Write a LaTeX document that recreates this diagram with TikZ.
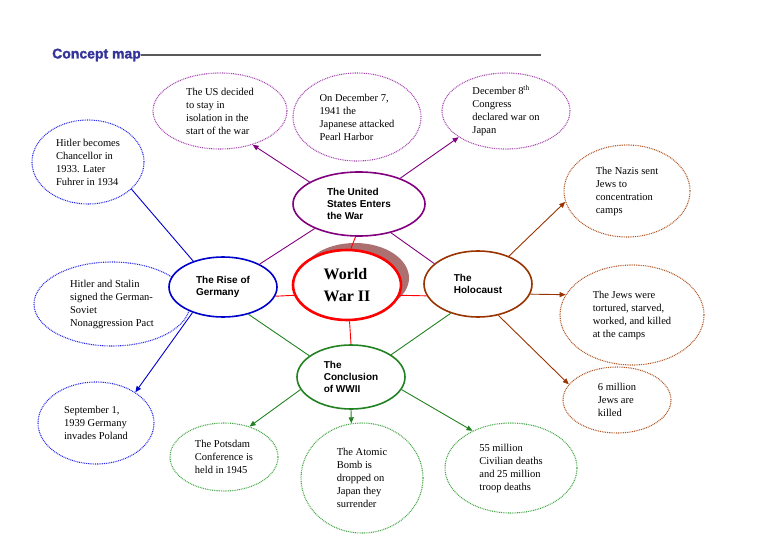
\documentclass[tikz,border=0pt]{standalone}
\usepackage{fontspec}
\setmainfont{Liberation Serif}
\setsansfont{Liberation Sans}
\usepackage{tikz}
\usetikzlibrary{shapes.geometric,arrows.meta,positioning}

\definecolor{wwpurple}{RGB}{128,0,128}
\definecolor{wwpurpledot}{RGB}{165,70,175}
\definecolor{wwblue}{RGB}{0,0,204}
\definecolor{wwbluedot}{RGB}{40,40,235}
\definecolor{wwbrown}{RGB}{153,51,0}
\definecolor{wwbrowndot}{RGB}{175,85,35}
\definecolor{wwgreen}{RGB}{34,130,34}
\definecolor{wwgreendot}{RGB}{70,165,70}
\definecolor{wwred}{RGB}{255,0,0}
\definecolor{wwshadow}{RGB}{172,112,112}
\definecolor{wwtitle}{RGB}{51,51,153}

\begin{document}
\begin{tikzpicture}[
  x=1pt, y=-1pt,
  topic/.style={ellipse, draw=#1, fill=white, line width=1.6pt, inner sep=0pt,
    align=left, font=\sffamily\bfseries\fontsize{10}{12}\selectfont},
  fact/.style={ellipse, draw=#1, line width=1.1pt, dash pattern=on 0.9pt off 0.9pt,
    inner sep=0pt, align=left, font=\fontsize{10.5}{13}\selectfont},
  arr/.style={-{Triangle[length=6pt,width=5pt]}, line width=0.9pt},
  link/.style={line width=0.9pt}
]
\useasboundingbox (0,0) rectangle (768,543);

% heading
\node[anchor=west, inner sep=0pt, text=wwtitle,
  font=\sffamily\bfseries\fontsize{14}{16}\selectfont\addfontfeature{FakeBold=1.5}]
  (title) at (52,55) {Concept map};
\coordinate (ruleend) at (541,55);
\draw[line width=1.4pt, black!65] (title.east) -- (ruleend);

% detail ellipses
\node[fact=wwpurpledot, minimum width=134pt, minimum height=76pt] (isolation) at (220,111)
  {The US decided\\to stay in\\isolation in the\\start of the war};
\node[fact=wwpurpledot, minimum width=128pt, minimum height=88pt] (pearl) at (357,117)
  {On December 7,\\1941 the\\Japanese attacked\\Pearl Harbor};
\node[fact=wwpurpledot, minimum width=128pt, minimum height=76pt] (declare) at (506,111)
  {December 8\textsuperscript{th}\\Congress\\declared war on\\Japan};
\node[fact=wwbluedot, minimum width=112pt, minimum height=84pt] (chancellor) at (88,162)
  {Hitler becomes\\Chancellor in\\1933. Later\\Fuhrer in 1934};
\node[fact=wwbluedot, minimum width=156pt, minimum height=84pt] (pact) at (112,304)
  {Hitler and Stalin\\signed the German-\\Soviet\\Nonaggression Pact};
\node[fact=wwbluedot, minimum width=116pt, minimum height=82pt] (poland) at (96,423)
  {September 1,\\1939 Germany\\invades Poland};
\node[fact=wwbrowndot, minimum width=126pt, minimum height=92pt] (camps) at (627,191)
  {The Nazis sent\\Jews to\\concentration\\camps};
\node[fact=wwbrowndot, minimum width=144pt, minimum height=100pt] (tortured) at (632,315)
  {The Jews were\\tortured, starved,\\worked, and killed\\at the camps};
\node[fact=wwbrowndot, minimum width=108pt, minimum height=66pt] (sixmil) at (617,400)
  {6 million\\Jews are\\killed};
\node[fact=wwgreendot, minimum width=108pt, minimum height=68pt] (potsdam) at (224,457)
  {The Potsdam\\Conference is\\held in 1945};
\node[fact=wwgreendot, minimum width=122pt, minimum height=110pt] (bomb) at (362,478)
  {The Atomic\\Bomb is\\dropped on\\Japan they\\surrender};
\node[fact=wwgreendot, minimum width=132pt, minimum height=90pt] (deaths) at (511,468)
  {55 million\\Civilian deaths\\and 25 million\\troop deaths};

% main topics
\node[ellipse, fill=wwshadow, minimum width=108pt, minimum height=70pt] (shade) at (355,278) {};
\node[topic=wwred, line width=2.6pt, minimum width=108pt, minimum height=70pt,
  font=\bfseries\fontsize{16}{22}\selectfont] (war) at (347,285) {World\\War II};
\node[topic=wwpurple, minimum width=132pt, minimum height=64pt] (usa) at (359,204)
  {The United\\States Enters\\the War};
\node[topic=wwblue, minimum width=108pt, minimum height=60pt] (germany) at (223,287)
  {The Rise of\\Germany};
\node[topic=wwbrown, minimum width=108pt, minimum height=66pt] (holocaust) at (478,284)
  {The\\Holocaust};
\node[topic=wwgreen, minimum width=108pt, minimum height=64pt] (conclusion) at (351,377)
  {The\\Conclusion\\of WWII};

% connectors
\draw[link, wwred] (war.84) -- (usa.-96);
\draw[link, wwred] (war.191) -- (germany.-10);
\draw[link, wwred] (war.-11) -- (holocaust.193);
\draw[link, wwred] (war.-86) -- (conclusion.90);

\draw[link, wwpurple] (usa.-151) -- (germany.32);
\draw[link, wwpurple] (usa.-42) -- (holocaust.155);
\draw[arr, wwpurple] (usa.156) -- (isolation.-46);
\draw[arr, wwpurple] (usa.32) -- (declare.-151);

\draw[link, wwblue] (chancellor.-32) -- (germany.139);
\draw[arr, wwblue] (germany.-140) -- (poland.38);

\draw[link, wwgreen] (conclusion.153) -- (germany.-47);
\draw[link, wwgreen] (conclusion.29) -- (holocaust.-133);
\draw[arr, wwgreen] (conclusion.194) -- (potsdam.50);
\draw[arr, wwgreen] (conclusion.-90) -- (bomb.101);
\draw[arr, wwgreen] (conclusion.-14) -- (deaths.136);

\draw[arr, wwbrown] (holocaust.42) -- (camps.190);
\draw[arr, wwbrown] (holocaust.-11) -- (tortured.163);
\draw[arr, wwbrown] (holocaust.-57) -- (sixmil.162);
\end{tikzpicture}
\end{document}
